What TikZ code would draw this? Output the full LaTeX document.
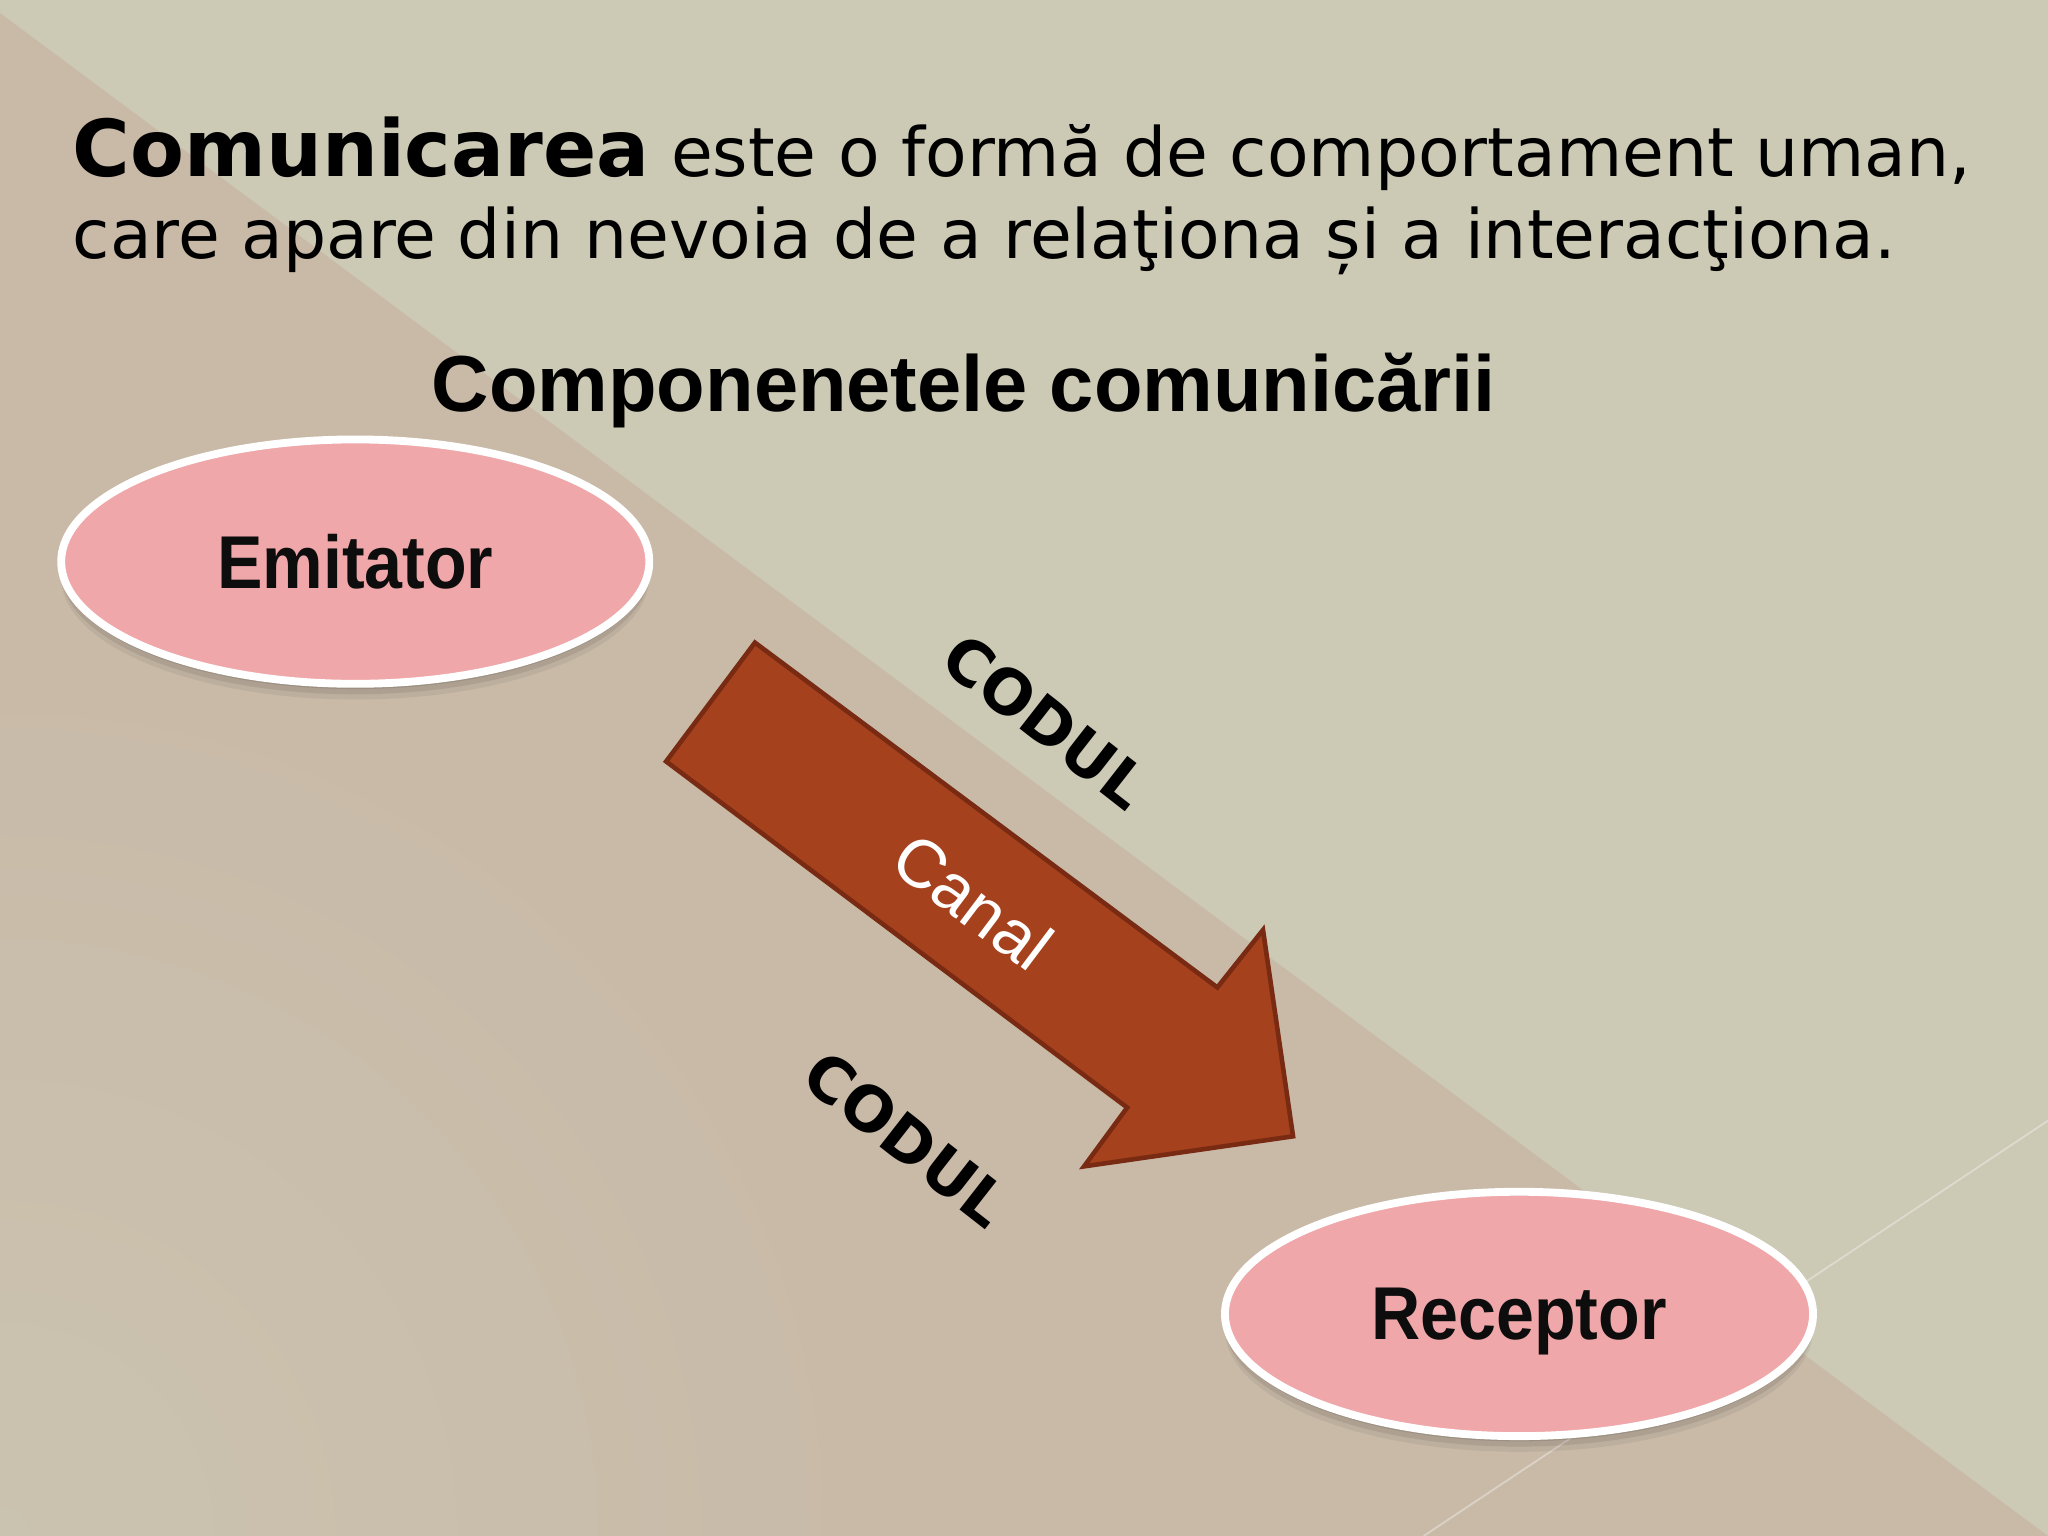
\documentclass[tikz,border=0pt]{standalone}
\usepackage{fontspec}
\setmainfont{DejaVu Sans}
\newfontfamily\arialf{Liberation Sans}
\newfontfamily\arialn[FakeStretch=0.91]{Liberation Sans}
\usetikzlibrary{shapes.geometric}
\definecolor{bggreen}{RGB}{204,201,181}
\definecolor{bgtan}{RGB}{201,186,168}
\definecolor{pinkfill}{RGB}{239,167,170}
\definecolor{arrowfill}{RGB}{165,65,28}
\definecolor{arrowedge}{RGB}{120,42,18}
\tikzset{
  oval/.style={ellipse, draw=white, line width=0.06cm, fill=pinkfill,
    minimum width=4.5cm, minimum height=1.87cm, inner sep=0pt, text depth=0pt,
    font=\arialn\bfseries\fontsize{16.3pt}{16.3pt}\selectfont, text=black!95},
  ovalshadow/.style={ellipse, fill=black, opacity=0.10, inner sep=0pt,
    minimum width=4.5cm, minimum height=1.87cm},
  codelabel/.style={font=\bfseries\fontsize{13.5pt}{13.5pt}\selectfont, rotate=-38, inner sep=0pt},
  titletext/.style={anchor=base west, inner sep=0pt, font=\fontsize{14.8pt}{14.8pt}\selectfont},
}
\begin{document}
\begin{tikzpicture}[x=0.01cm, y=-0.01cm]
\useasboundingbox (0,0) rectangle (1568,1176);
% background
\fill[bggreen] (0,0) rectangle (1568,1176);
\begin{scope}
  \clip (0,10) -- (1568,1176) -- (0,1176) -- cycle;
  \fill[bgtan] (0,0) rectangle (1568,1176);
  \shade[inner color=bggreen, outer color=bgtan, opacity=0.6] (0,1176) circle (700);
\end{scope}
\draw[white, opacity=0.35, line width=0.4pt] (1568,858) -- (1090,1176);

% title
\node[titletext] (t1) at (55,135) {{\fontsize{17.1pt}{17.1pt}\selectfont\bfseries Comunicarea} este o formă de comportament uman,};
\node[titletext] (t2) at (55,198) {care apare din nevoia de a relaţiona și a interacţiona.};
\node[anchor=base, inner sep=0pt, font=\arialf\bfseries\fontsize{17.3pt}{17.3pt}\selectfont] (sub) at (738,315) {Componenetele comunicării};

% shadows
\foreach \d/\o in {4/0.10,8/0.08,12/0.06}{
  \node[ovalshadow, opacity=\o] at (272,430+\d) {};
  \node[ovalshadow, opacity=\o] at (1163,1006+\d) {};
}
\node[oval] (emit) at (272,430) {Emitator};
\node[oval] (rec) at (1163,1006) {Receptor};

% arrow (canal)
\draw[fill=arrowfill, draw=arrowedge, line width=0.035cm, line join=miter]
  (578,492) -- (932,756) -- (967,712) -- (990,870) -- (830,893) -- (863,848) -- (510,583) -- cycle;
\node[font=\arialf\fontsize{14.8pt}{14.8pt}\selectfont, text=white, rotate=-37, inner sep=0pt] (canal) at (745,690) {Canal};

\node[codelabel] (cod1) at (801,552) {CODUL};
\node[codelabel] (cod2) at (694,872) {CODUL};
\end{tikzpicture}
\end{document}
